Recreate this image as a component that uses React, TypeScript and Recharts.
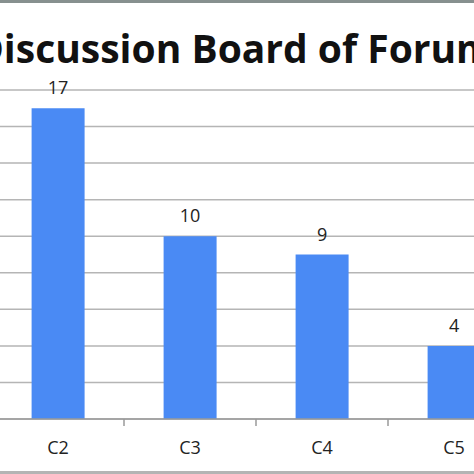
import React from "react";
import {
  BarChart,
  Bar,
  XAxis,
  YAxis,
  CartesianGrid,
  LabelList,
} from "recharts";

const categories = ["C2", "C3", "C4", "C5"];
const counts = [17, 10, 9, 4];
const yTicks = [0, 2, 4, 6, 8, 10, 12, 14, 16, 18];
const title = "Discussion Board of Forum";

const data = categories.map((c, i) => ({ name: c, total: counts[i] }));

const TICK_SIZE = 7;
const TICK_MARGIN = 2;

// category label in the middle, tick mark on the boundary between categories
function CategoryTick(props: any) {
  const { x, y, payload } = props;
  const half = payload && payload.offset != null ? payload.offset : 0;
  const axisY = y - TICK_SIZE - TICK_MARGIN;
  return (
    <g>
      <line
        x1={x + half}
        x2={x + half}
        y1={axisY}
        y2={axisY + TICK_SIZE}
        stroke="#9a9a9a"
        strokeWidth={1.5}
      />
      <text
        x={x}
        y={y}
        dy={26}
        textAnchor="middle"
        fontSize={18}
        fill="#222"
        fontFamily="Open Sans"
      >
        {payload.value}
      </text>
    </g>
  );
}

// value axis sits outside the cropped view, so its labels draw nothing
function NoTick() {
  return <g />;
}

export default function App() {
  return (
    <div
      style={{
        position: "fixed",
        left: 0,
        top: 0,
        width: 474,
        height: 474,
        overflow: "hidden",
        background: "#fff",
      }}
    >
      <div
        style={{
          position: "absolute",
          left: 0,
          top: 0,
          width: 474,
          height: 3,
          background: "#87908f",
        }}
      />
      <div
        style={{
          position: "absolute",
          left: -25,
          top: 28,
          whiteSpace: "nowrap",
          fontFamily: "Open Sans",
          fontWeight: 700,
          fontSize: 39,
          lineHeight: 1,
          color: "#111",
        }}
      >
        {title}
      </div>
      <div style={{ position: "absolute", left: -60, top: 0 }}>
        <BarChart
          width={600}
          height={474}
          data={data}
          margin={{ top: 90, right: 20, bottom: 0, left: 0 }}
          barCategoryGap="30%"
        >
          <CartesianGrid
            vertical={false}
            stroke="#b5b5b5"
            strokeWidth={1.5}
          />
          <XAxis
            dataKey="name"
            height={55}
            tick={<CategoryTick />}
            tickLine={false}
            tickSize={TICK_SIZE}
            tickMargin={TICK_MARGIN}
            axisLine={{ stroke: "#9a9a9a", strokeWidth: 1.5 }}
          />
          <YAxis
            width={52}
            domain={[0, 18]}
            ticks={yTicks}
            axisLine={false}
            tickLine={false}
            tick={<NoTick />}
          />
          <Bar dataKey="total" fill="#4a8af4" isAnimationActive={false}>
            <LabelList
              dataKey="total"
              position="top"
              offset={14}
              fontSize={18}
              fill="#222"
              fontFamily="Open Sans"
            />
          </Bar>
        </BarChart>
      </div>
      <div
        style={{
          position: "absolute",
          left: 0,
          top: 471,
          width: 474,
          height: 3,
          background: "#b4b4b4",
        }}
      />
    </div>
  );
}
